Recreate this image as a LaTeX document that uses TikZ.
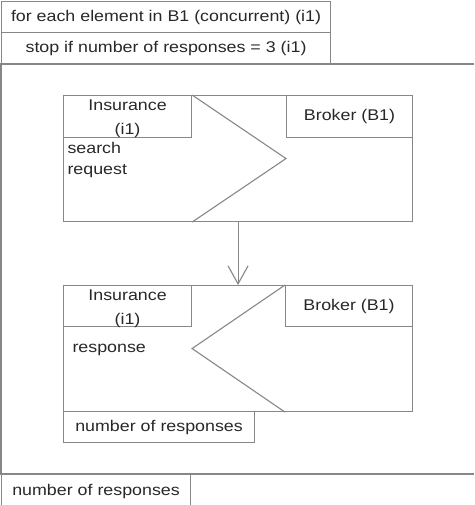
\documentclass[tikz,border=0pt]{standalone}
\usepackage{fontspec}
\setmainfont{Liberation Sans}[FakeStretch=1.15]
\usetikzlibrary{arrows.meta}
\definecolor{linegray}{RGB}{135,135,135}
\definecolor{textgray}{RGB}{40,40,40}
\begin{document}
\begin{tikzpicture}[x=1pt,y=-1pt,line width=1.1pt,
  ln/.style={draw=linegray},
  box/.style={draw=linegray,rectangle,inner sep=0pt,anchor=north west,text=textgray,font=\fontsize{15.5}{22}\selectfont},
  txt/.style={text=textgray,inner sep=0pt,font=\fontsize{15.5}{21}\selectfont}]
\useasboundingbox (0,0) rectangle (474,505);
% header rows
\node[box,minimum width=329pt,minimum height=31pt] (r1) at (1,1) {for each element in B1 (concurrent) (i1)};
\node[box,minimum width=329pt,minimum height=32pt] (r2) at (1,32) {stop if number of responses = 3 (i1)};
% frame
\coordinate (ftl) at (1,64);
\coordinate (ftr) at (474,64);
\coordinate (fbl) at (1,474);
\coordinate (fbr) at (474,474);
\draw[ln] (ftr) -- (ftl) -- (fbl) -- (fbr);
\node[box,minimum width=189pt,minimum height=33pt] (res) at (1,474) {number of responses};
% upper action
\node[box,minimum width=349pt,minimum height=126pt] (up) at (63,95) {};
\node[box,minimum width=128pt,minimum height=42pt] (insU) at (63,95) {};
\node[txt,align=center] (insUt) at ([yshift=-2.5pt]insU.center) {Insurance\\[3pt](i1)};
\node[box,minimum width=126pt,minimum height=42pt] (brkU) at (286,95) {Broker (B1)};
\draw[ln] (insU.north east) -- (brkU.west |- up.center) -- (insU.east |- up.south);
\node[txt,anchor=west,align=left] (msgU) at (67,160) {search\\request};
% lower action
\node[box,minimum width=349pt,minimum height=126pt] (low) at (63,285) {};
\node[box,minimum width=128pt,minimum height=41pt] (insL) at (63,285) {};
\node[txt,align=center] (insLt) at ([yshift=-2.5pt]insL.center) {Insurance\\[3pt](i1)};
\node[box,minimum width=127pt,minimum height=41pt] (brkL) at (285,285) {Broker (B1)};
\draw[ln] (brkL.north west) -- (insL.east |- low.center) -- (brkL.west |- low.south);
\node[txt,anchor=west] (msgL) at (72,350) {response};
\node[box,minimum width=191pt,minimum height=31pt] (numL) at (63,411) {number of responses};
% flow arrow
\draw[ln,-{Straight Barb[length=18pt,width=20pt]}] (up.south) -- (low.north);
\end{tikzpicture}
\end{document}
